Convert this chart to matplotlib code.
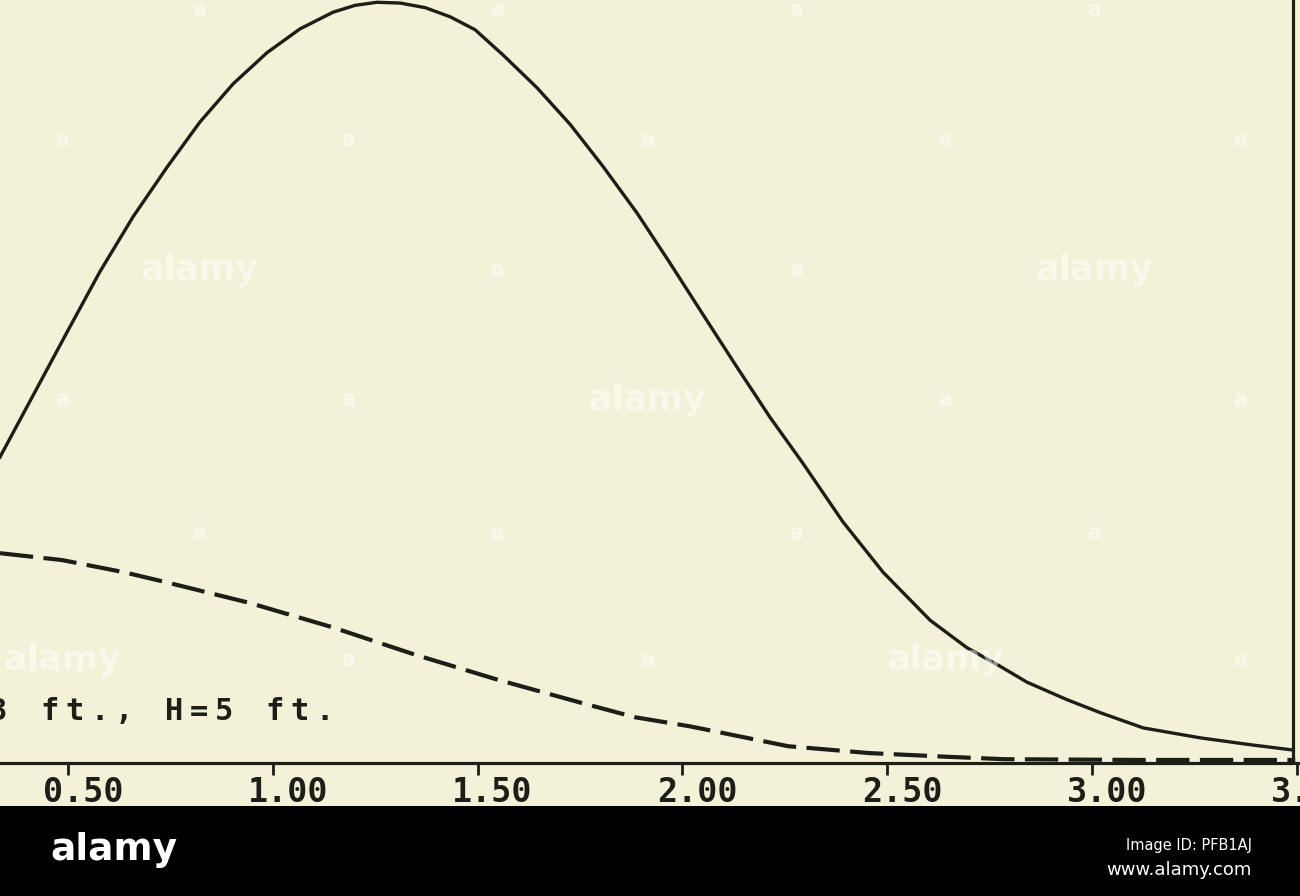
import matplotlib
matplotlib.use("Agg")
import matplotlib.pyplot as plt
from matplotlib.patches import Rectangle

# solid curve
x_solid = [0.334, 0.415, 0.498, 0.578, 0.659, 0.742, 0.822, 0.903, 0.986, 1.066,
           1.147, 1.201, 1.254, 1.311, 1.372, 1.433, 1.494, 1.562, 1.645, 1.726,
           1.806, 1.889, 1.970, 2.050, 2.133, 2.214, 2.294, 2.392, 2.490, 2.605,
           2.695, 2.775, 2.841, 2.939, 3.020, 3.125, 3.264, 3.386, 3.491]
y_solid = [0.401, 0.482, 0.565, 0.644, 0.716, 0.781, 0.840, 0.890, 0.931, 0.962,
           0.984, 0.993, 0.997, 0.996, 0.990, 0.978, 0.961, 0.928, 0.885, 0.837,
           0.782, 0.721, 0.655, 0.588, 0.519, 0.453, 0.393, 0.316, 0.250, 0.187,
           0.151, 0.127, 0.106, 0.083, 0.066, 0.046, 0.033, 0.024, 0.017]

# dashed curve
x_dash = [0.334, 0.485, 0.637, 0.739, 0.942, 1.145, 1.347, 1.550, 1.752, 1.884,
          2.019, 2.258, 2.456, 2.653, 2.785, 3.112, 3.496]
y_dash = [0.275, 0.266, 0.250, 0.237, 0.210, 0.178, 0.142, 0.109, 0.079, 0.060,
          0.048, 0.022, 0.013, 0.008, 0.005, 0.004, 0.004]

ticks = [0.5, 1.0, 1.5, 2.0, 2.5, 3.0, 3.5]
tick_labels = ["0.50", "1.00", "1.50", "2.00", "2.50", "3.00", "3.50"]
note = "3 ft., H=5 ft."

bg = "#f3f1d8"
ink = "#1e1e18"

W, H = 1300, 896
fig = plt.figure(figsize=(W / 100, H / 100), dpi=100, facecolor=bg)

ax = fig.add_axes([0, (H - 763) / H, 1, 763 / H])
ax.set_facecolor(bg)
ax.set_xlim(0.334, 0.334 + W / 409.6)
ax.set_ylim(0, 1)
ax.axis("off")

# faint scanner watermarks
big_marks = [(270, 199), (270, 1094), (400, 647), (660, 62), (660, 945)]
for i, yy in enumerate([10, 140, 270, 400, 533, 660]):
    xs = [199, 497, 796, 1094] if i % 2 == 0 else [62, 348, 647, 945, 1240]
    for xx in xs:
        big = (yy, xx) in big_marks
        fig.text(xx / W, 1 - yy / H, "alamy" if big else "a", color="white",
                 alpha=0.5, fontsize=25 if big else 15, weight="bold",
                 family="DejaVu Sans", ha="center", va="center")

ax.plot(x_solid, y_solid, color=ink, lw=2.4, solid_joinstyle="round")
ax.plot(x_dash, y_dash, color=ink, lw=3.0, dashes=(8, 2.5))

# axis line, right frame, ticks
ax.axhline(0, color=ink, lw=2.3, clip_on=False)
ax.axvline(3.49, ymin=0, ymax=1, color=ink, lw=2.3)
ax.vlines(ticks, -0.016, 0, color=ink, lw=2.0, clip_on=False)
for t, lab in zip(ticks, tick_labels):
    ax.text(t - 0.062, -0.017, lab, ha="left", va="top",
            family="DejaVu Sans Mono", weight="bold", fontsize=24,
            color=ink, clip_on=False)

# annotation, typed char by char on a fixed pitch (first char is cut by the crop)
x0 = 0.334 - 12 / 409.6
pitch = 25 / 409.6
for i, ch in enumerate(note):
    ax.text(x0 + i * pitch + (0.005 if i else 0), 0.056, ch, ha="left",
            va="baseline", family="DejaVu Sans Mono", weight="bold",
            fontsize=22, color=ink)

# black footer band
fig.patches.append(Rectangle((0, 0), 1, (H - 806) / H, transform=fig.transFigure,
                             facecolor="black", edgecolor="none"))
fig.text(50 / W, 1 - 850 / H, "alamy", color="white", fontsize=27, weight="bold",
         family="DejaVu Sans", ha="left", va="center")
fig.text(1252 / W, 1 - 845 / H, "Image ID: PFB1AJ", color="white", fontsize=10.5,
         family="DejaVu Sans", ha="right", va="center")
fig.text(1252 / W, 1 - 870 / H, "www.alamy.com", color="white", fontsize=13,
         family="DejaVu Sans", ha="right", va="center")

fig.savefig("out.png", dpi=100, facecolor=bg)
